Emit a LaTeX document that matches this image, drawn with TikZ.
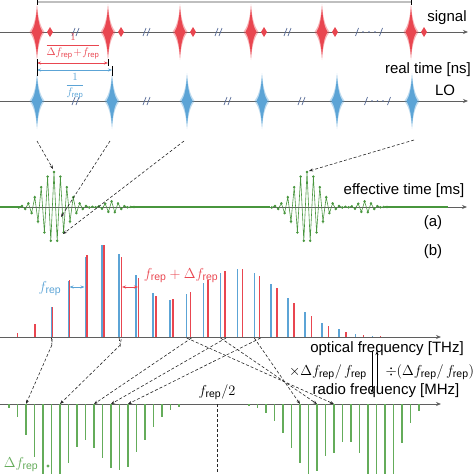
\documentclass[tikz,border=0pt]{standalone}
\usepackage{fontspec}
\setmainfont{Liberation Sans}
\usetikzlibrary{arrows.meta}
\definecolor{sigred}{RGB}{233,70,80}
\definecolor{lob}{RGB}{92,164,214}
\definecolor{grn}{RGB}{72,150,62}
\definecolor{rfg}{RGB}{100,172,90}
\definecolor{axg}{RGB}{95,95,95}
\definecolor{brkc}{RGB}{85,105,150}
\begin{document}
\begin{tikzpicture}[x=1pt,y=-1pt,
  font=\fontsize{15}{18}\selectfont,
  axis/.style={draw=axg, line width=0.8pt, -{Stealth[length=5pt,width=4pt]}},
  meas/.style={line width=0.8pt, {Stealth[length=4pt,width=3pt]}-{Stealth[length=4pt,width=3pt]}},
  dsh/.style={draw=black!85, line width=0.6pt, dash pattern=on 3pt off 2pt},
  dsharrow/.style={dsh, -{Stealth[length=4pt,width=3pt]}},
  pulse/.pic={
    \fill[#1, opacity=0.4] (0,-28) .. controls (1,-12) and (4,-5) .. (7.5,0) .. controls (4,5) and (1,12) .. (0,28) .. controls (-1,12) and (-4,5) .. (-7.5,0) .. controls (-4,-5) and (-1,-12) .. cycle;
    \fill[#1] (0,-26) .. controls (0.8,-12) and (2.5,-5) .. (5.5,0) .. controls (2.5,5) and (0.8,12) .. (0,26) .. controls (-0.8,12) and (-2.5,5) .. (-5.5,0) .. controls (-2.5,-5) and (-0.8,-12) .. cycle;
  },
  sat/.pic={\fill[#1] (0,-5) -- (3,0) -- (0,5) -- (-3,0) -- cycle;},
  brk/.pic={\draw[brkc, line width=0.7pt] (-3,4) -- (0,-4) (1,4) -- (4,-4);},
  slsh/.pic={\draw[brkc, line width=0.7pt] (-1.5,4) -- (1.5,-4);}
]
\useasboundingbox (0,0) rectangle (474,474);
\clip (0,0) rectangle (474,474);

% top bracket
\draw[black!25, line width=2pt] (37,1.5) -- (411,1.5);
\draw[black, line width=0.8pt] (37,0) -- (37,5) (411,0) -- (411,5);

% signal line
\draw[axis] (0,32) -- (468,32);
\foreach \x [count=\i] in {37,108,180,251,322,411} {
  \coordinate (s\i) at (\x,32);
  \pic at (s\i) {pulse=sigred};
  \pic at (\x+13,32) {sat=sigred};
}
\foreach \x in {75,146,218,287} \pic at (\x,32) {brk};
\pic at (357,32) {slsh}; \pic at (381,32) {slsh};
\foreach \x in {363,369,375} \fill[brkc] (\x,32) circle (0.8);

% LO line
\draw[axis] (0,101) -- (468,101);
\foreach \x [count=\i] in {37,112,187,262,337,412} {
  \coordinate (l\i) at (\x,101);
  \pic at (l\i) {pulse=lob};
}
\foreach \x in {75,146,227,301} \pic at (\x,101) {brk};
\pic at (366,101) {slsh}; \pic at (389,101) {slsh};
\foreach \x in {372,377.5,383} \fill[brkc] (\x,101) circle (0.8);

% measurement arrows
\coordinate (ma) at (37,63); \coordinate (mb) at (108,63);
\coordinate (mc) at (37,70); \coordinate (md) at (112,70);
\draw[meas, sigred] (ma) -- (mb);
\draw[meas, lob] (mc) -- (md);
\draw[black, line width=0.8pt] (37,59) -- (37,76) (108,59) -- (108,66) (112,66) -- (112,76);
\node[sigred, font=\fontsize{11}{13}\selectfont] (fr1) at (73,46) {$\displaystyle\frac{1}{\Delta f_{\mathrm{rep}}\!+\!f_{\mathrm{rep}}}$};
\node[lob, font=\fontsize{11}{13}\selectfont] (fr2) at (75,86) {$\displaystyle\frac{1}{f_{\mathrm{rep}}}$};

\node (tsig) at (447,18) {signal};
\node (treal) at (428,70) {real time [ns]};
\node (tlo) at (445,90) {LO};

% interferogram
\draw[axis] (0,207) -- (467,207);
\draw[grn, line width=2.8pt] (0,207) -- (21,207) (131,207) -- (270,207) (385,207) -- (448,207);
\draw[grn, line width=0.6pt, mark=*, mark size=0.9pt, mark options={fill=grn, draw=grn}]
  plot[domain=18.8:134, samples=37] ({\x},{207-35*exp(-min(9,((\x-54)/17)^2))*cos((\x-54)*56.25)-6*exp(-min(9,((\x-112)/9)^2))*cos((\x-112)*56.25+40)});
\draw[grn, line width=0.6pt, mark=*, mark size=0.9pt, mark options={fill=grn, draw=grn}]
  plot[domain=271.8:387, samples=37] ({\x},{207-35*exp(-min(9,((\x-307)/17)^2))*cos((\x-307)*56.25)-6*exp(-min(9,((\x-365)/9)^2))*cos((\x-365)*56.25+40)});

\coordinate (a1) at (37,141); \coordinate (b1) at (53,169);
\coordinate (a2) at (110,141); \coordinate (b2) at (61,217);
\coordinate (a3) at (184,141); \coordinate (b3) at (63,234);
\coordinate (a4) at (414,140); \coordinate (b4) at (309,171);
\foreach \i in {1,2,3,4} \draw[dsharrow] (a\i) -- (b\i);

\node (teff) at (404,191) {effective time [ms]};
\node (ta) at (433,223) {(a)};
\node (tb) at (433,252) {(b)};

% optical spectrum
\draw[axis] (0,337) -- (441,337);
\foreach \n/\bt/\rt in {0/333/333,1/324/324,2/307/307,3/281/280,4/257/255,5/245/245,6/254/257,7/275/278,8/293/296,9/300/299,10/294/292,11/283/280,12/273/271,13/269/269,14/273/276,15/284/288,16/298/303,17/312/316,18/323/326,19/329/332,20/334/335,21/336/336.3} {
  \pgfmathsetmacro\xb{17.7+16.9*\n}
  \pgfmathsetmacro\xr{\xb+0.38*\n}
  \draw[lob, line width=1.5pt] (\xb,337) -- (\xb,\bt);
  \draw[sigred, line width=1.5pt] (\xr,337) -- (\xr,\rt);
}
\node[lob] (tfrep) at (50,289) {$f_{\mathrm{rep}}$};
\coordinate (fa) at (69.5,287); \coordinate (fb) at (84.5,287);
\draw[meas, lob] (fa) -- (fb);
\coordinate (fc) at (122,287); \coordinate (fd) at (138,287);
\draw[meas, sigred] (fc) -- (fd);
\node[sigred] (tfd) at (181,276) {$f_{\mathrm{rep}}+\Delta f_{\mathrm{rep}}$};

% RF spectrum
\draw[axis] (0,404) -- (441,404);
\foreach \m/\d in {0/4,1/13,2/31,3/56,4/80,5/92,6/83,7/59,8/43,9/36,10/44,11/54,12/64,13/66,14/63,15/48,16/36,17/23,18/13,19/6,20/3}
  \draw[rfg, line width=1.5pt] (9+8.5*\m,404) -- ++(0,\d);
\foreach \k/\d in {0/2,1/4,2/9,3/17,4/29,5/44,6/59,7/72,8/67,9/52,10/49,11/38,12/38,13/49,14/72,15/72,16/72,17/72,18/39,19/19,20/7}
  \draw[rfg, line width=1.5pt] (249+8.5*\k,404) -- ++(0,\d);
\draw[dsh] (217,404) -- (217,474);
\node (thalf) at (217,392) {$f_{\mathrm{rep}}/2$};
\node[rfg, fill=white, inner sep=1pt] (tdf) at (21,465) {$\Delta f_{\mathrm{rep}}$};
\fill[rfg] (48,466) circle (1.6);

% mapping dashed lines
\foreach \n/\tl in {2/26,6/60} {
  \pgfmathsetmacro\xb{17.7+16.9*\n}
  \pgfmathsetmacro\xr{\xb+0.38*\n}
  \pgfmathsetmacro\xm{(\xb+\xr)/2}
  \coordinate (vb\n) at (\xb,338); \coordinate (vr\n) at (\xr,338);
  \coordinate (vm\n) at (\xm,345); \coordinate (tl\n) at (\tl,404);
  \draw[dsh] (vb\n) -- (vm\n) -- (vr\n);
  \draw[dsharrow] (vm\n) -- (tl\n);
}
\foreach \n/\tl/\tr in {10/94/334,12/111/317,14/128/300} {
  \pgfmathsetmacro\xb{17.7+16.9*\n}
  \pgfmathsetmacro\xr{\xb+0.38*\n}
  \coordinate (xb\n) at (\xb,338); \coordinate (xr\n) at (\xr+1,338);
  \coordinate (tl\n) at (\tl,404); \coordinate (tr\n) at (\tr,404);
  \draw[dsharrow] (xr\n) -- (tl\n);
  \draw[dsharrow] (xb\n) -- (tr\n);
}

% middle labels
\node (topt) at (387,349) {optical frequency [THz]};
\node (tmul) at (328,372) {$\times\Delta f_{\mathrm{rep}}/\,f_{\mathrm{rep}}$};
\node[anchor=west] (tdiv) at (382,372) {$\div(\Delta f_{\mathrm{rep}}/\,f_{\mathrm{rep}})$};
\node (trad) at (386,391) {radio frequency [MHz]};
\coordinate (da) at (372,351); \coordinate (db) at (372,393);
\coordinate (ua) at (377,393); \coordinate (ub) at (377,351);
\draw[black, line width=0.6pt, -{Stealth[length=4pt,width=3pt]}] (da) -- (db);
\draw[black, line width=0.6pt, -{Stealth[length=4pt,width=3pt]}] (ua) -- (ub);
\end{tikzpicture}
\end{document}
